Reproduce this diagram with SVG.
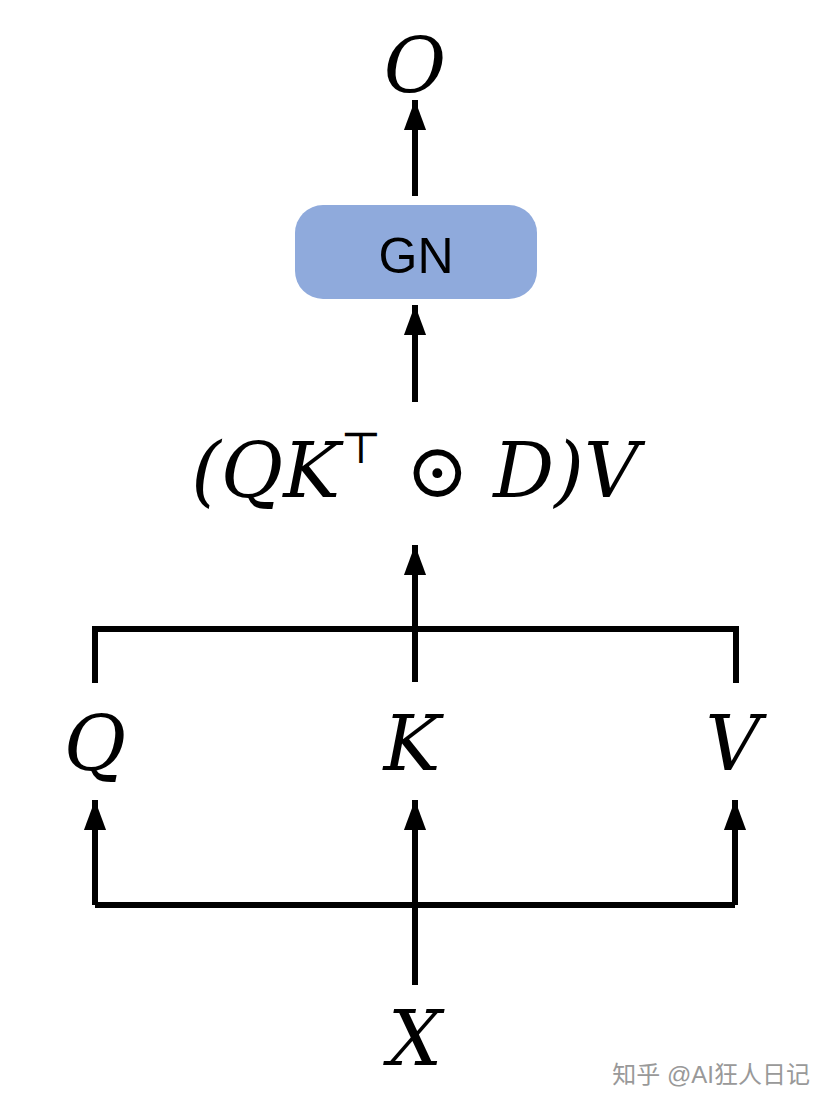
<svg xmlns="http://www.w3.org/2000/svg" width="830" height="1107" viewBox="0 0 830 1107">
<style>
.m{font-family:"DejaVu Serif","Liberation Serif",serif;font-style:italic;font-size:76px;fill:#000;text-anchor:middle}
.c{stroke:#000;stroke-width:6;fill:none}
</style>
<defs><marker id="a" markerUnits="userSpaceOnUse" markerWidth="30" markerHeight="40" refX="38" refY="14" orient="auto" viewBox="0 0 38 28"><path d="M0,0 L38,14 L0,28 Z" fill="#000"/></marker></defs>
<rect width="830" height="1107" fill="#fff"/>
<g id="connectors" class="c">
<line x1="415" y1="196" x2="415" y2="100" marker-end="url(#a)"/>
<line x1="415" y1="402" x2="415" y2="305" marker-end="url(#a)"/>
<line x1="415" y1="682" x2="415" y2="545" marker-end="url(#a)"/>
<polyline points="95,683 95,629 736,629 736,683"/>
<polyline points="95,905 735,905"/>
<line x1="415" y1="985" x2="415" y2="800" marker-end="url(#a)"/>
<line x1="95" y1="905" x2="95" y2="800" marker-end="url(#a)"/>
<line x1="735" y1="905" x2="735" y2="800" marker-end="url(#a)"/>
</g>
<g id="O"><text class="m" x="415" y="92">O</text></g>
<g id="GN"><rect x="295" y="205" width="242" height="94" rx="28" fill="#8faadc"/><text x="416" y="273" font-family="Liberation Sans,Arial,sans-serif" font-size="50" text-anchor="middle">GN</text></g>
<g id="formula"><text class="m" x="415" y="497">(QK<tspan font-style="normal" font-size="44" dy="-34">⊤</tspan><tspan dy="34"> ⊙ D)V</tspan></text></g>
<g id="Q"><text class="m" x="95" y="770">Q</text></g>
<g id="K"><text class="m" x="412" y="770">K</text></g>
<g id="V"><text class="m" x="733" y="770">V</text></g>
<g id="X"><text class="m" x="415" y="1065">X</text></g>
<text x="810" y="1083" text-anchor="end" font-family="Liberation Sans,Noto Sans CJK SC,sans-serif" font-size="24" fill="#999">知乎 @AI狂人日记</text>
</svg>
